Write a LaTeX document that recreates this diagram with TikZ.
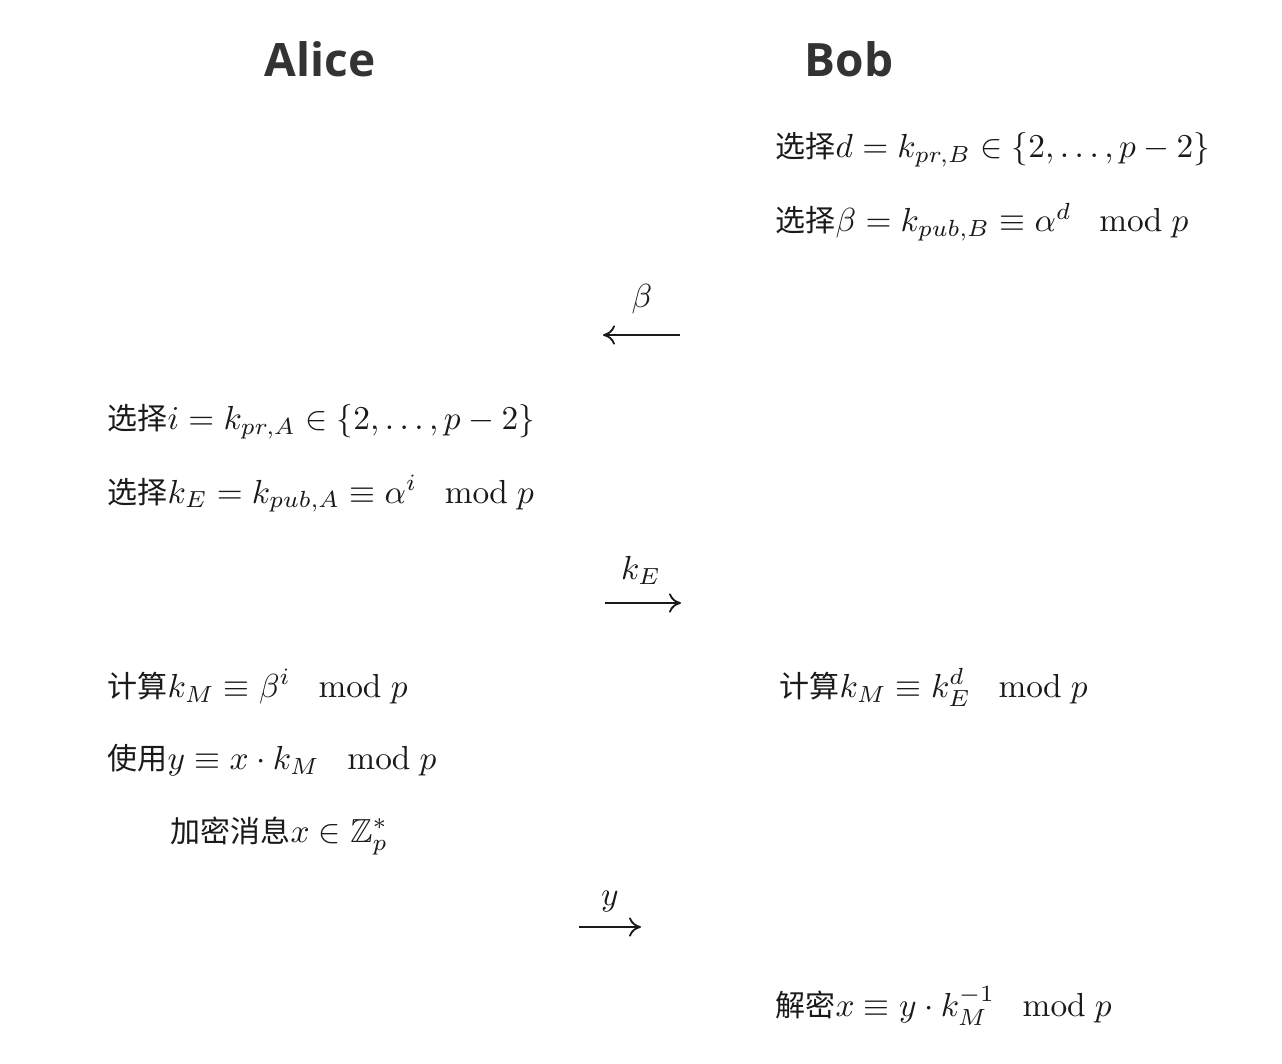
\documentclass[tikz,border=0pt]{standalone}
\usepackage{amsmath,amssymb}
\usepackage{fontspec}
\newfontfamily\cjk{Noto Sans CJK SC}
\newfontfamily\headfont{Open Sans}
\usetikzlibrary{arrows.meta}
\definecolor{headgray}{HTML}{333333}
\definecolor{txt}{HTML}{1A1A1A}
\newcommand{\modp}{\mkern15mu\mathrm{mod}\mkern5mu p}
\begin{document}
\begin{tikzpicture}[x=0.3pt,y=-0.3pt,
  heading/.style={anchor=base,inner sep=0pt,font=\headfont\bfseries\fontsize{13.8}{16}\selectfont,text=headgray},
  eq/.style={anchor=base west,inner sep=0pt,text=txt,font=\fontsize{10}{12}\selectfont},
  lbl/.style={anchor=base,inner sep=0pt,text=txt,font=\fontsize{10}{12}\selectfont},
  msg/.style={draw=txt,line width=0.55pt,-{Computer Modern Rightarrow[length=3.6pt,width=5.8pt,line width=0.55pt]}}]
\useasboundingbox[fill=white] (0,0) rectangle (1282,1064);
\newcommand{\zh}[1]{{\cjk\fontsize{9}{12}\selectfont #1}}
\node[heading] (alice) at (320,77) {Alice};
\node[heading] (bob) at (849,77) {Bob};
\node[eq] (b1) at (775,158) {\zh{选择}$d = k_{pr,B} \in \{2,\ldots,p-2\}$};
\node[eq] (b2) at (775,232) {\zh{选择}$\beta = k_{pub,B} \equiv \alpha^d \modp$};
\coordinate (m1s) at (680,335);
\coordinate (m1e) at (603,335);
\draw[msg] (m1s) -- (m1e);
\node[lbl] (m1l) at (642,308) {$\beta$};
\node[eq] (a1) at (107,430) {\zh{选择}$i = k_{pr,A} \in \{2,\ldots,p-2\}$};
\node[eq] (a2) at (107,503) {\zh{选择}$k_E = k_{pub,A} \equiv \alpha^i \modp$};
\coordinate (m2s) at (605,603);
\coordinate (m2e) at (681,603);
\draw[msg] (m2s) -- (m2e);
\node[lbl] (m2l) at (641,580) {$k_E$};
\node[eq] (a3) at (107,697) {\zh{计算}$k_M \equiv \beta^i \modp$};
\node[eq] (b3) at (779,697) {\zh{计算}$k_M \equiv k_E^d \modp$};
\node[eq] (a4) at (107,770) {\zh{使用}$y \equiv x\cdot k_M \modp$};
\node[eq] (a5) at (170,842) {\zh{加密消息}$x \in \mathbb{Z}_p^*$};
\coordinate (m3s) at (579,927);
\coordinate (m3e) at (641,927);
\draw[msg] (m3s) -- (m3e);
\node[lbl] (m3l) at (610,905) {$y$};
\node[eq] (b4) at (775,1016) {\zh{解密}$x \equiv y\cdot k_M^{-1} \modp$};
\end{tikzpicture}
\end{document}
